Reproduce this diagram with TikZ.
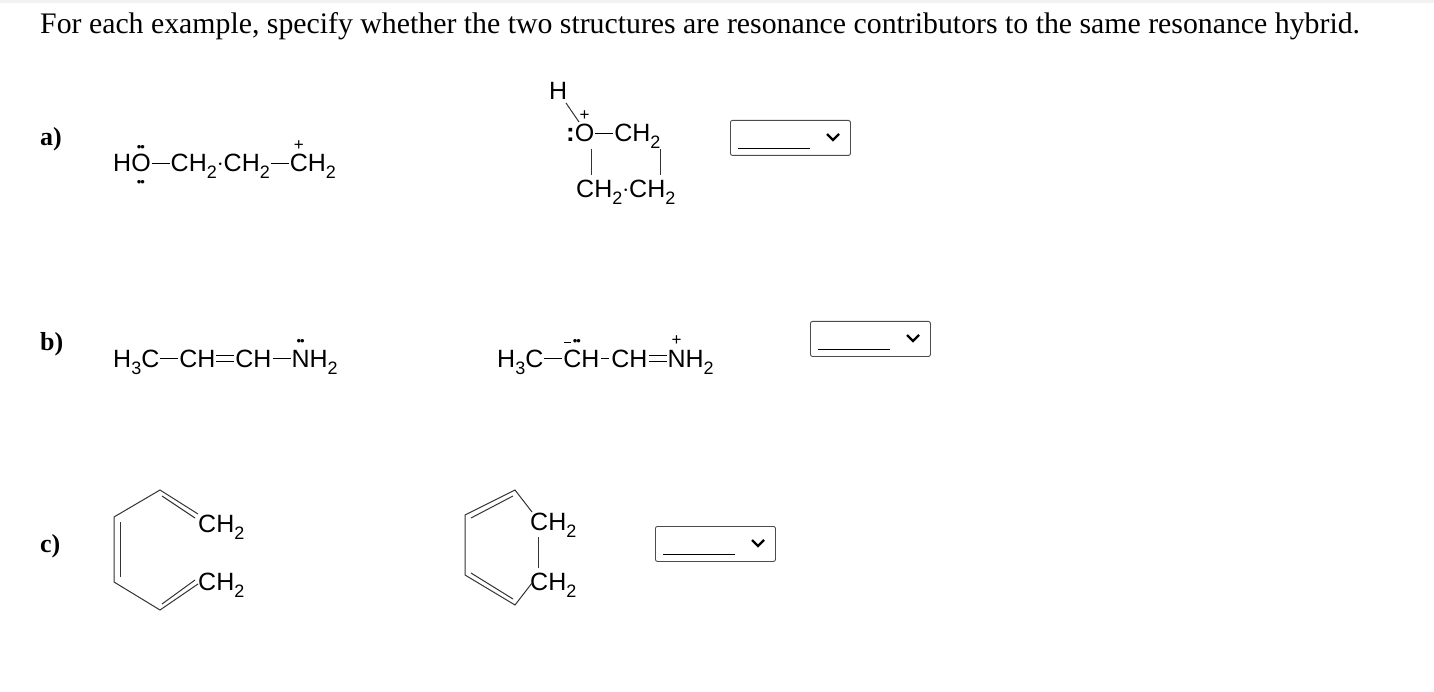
\documentclass[tikz,border=0pt]{standalone}
\usepackage{fontspec}
\setmainfont{Liberation Serif}
\newfontfamily\chem{Liberation Sans}
\newcommand\sub[1]{\raisebox{-0.28em}{\fontsize{18}{18}\selectfont #1}}
\newcommand\dd{{\fontsize{13}{13}\selectfont\textbullet\kern-1pt\textbullet}}
\newcommand\tmk[2]{\ooalign{#2\cr\hidewidth\raisebox{0.85em}{#1}\hidewidth\cr}}
\newcommand\lpO{\ooalign{O\cr\hidewidth\raisebox{0.8em}{\dd}\hidewidth\cr\hidewidth\raisebox{-0.6em}{\dd}\hidewidth\cr}}
\newcommand\pl{{\fontsize{17}{17}\selectfont +}}
\newcommand\sbnd{\kern1pt\rule[0.32em]{18pt}{1pt}\kern1pt}
\newcommand\dbnd{\kern1pt\rule[0.22em]{18pt}{1pt}\kern-18pt\rule[0.45em]{18pt}{1pt}\kern1pt}
\newcommand\cdt{\raisebox{0.05em}{$\cdot$}}
\begin{document}
\begin{tikzpicture}[x=1pt,y=-1pt,
  chemtxt/.style={font=\chem\fontsize{25}{25}\selectfont, inner sep=0pt, anchor=base west},
  lbl/.style={font=\bfseries\fontsize{26}{26}\selectfont, inner sep=0pt, anchor=base west},
  box/.style={draw=black!70, line width=0.9pt, rounded corners=2pt, minimum width=120pt, minimum height=35pt, inner sep=0pt, anchor=north west},
  bond/.style={line width=1pt, black!80}]
\useasboundingbox (0,0) rectangle (1434,692);
\fill[black!5] (0,0) rectangle (1434,3);
\node[anchor=base west, inner sep=0pt, font=\fontsize{29.8}{30}\selectfont] (title) at (40,34) {For each example, specify whether the two structures are resonance contributors to the same resonance hybrid.};
\node[lbl] (la) at (40,146) {a)};
\node[lbl] (lb) at (40,350) {b)};
\node[lbl] (lc) at (40,552) {c)};
% a left
\node[chemtxt] (a1) at (113,172) {H\lpO\sbnd CH\sub{2}\cdt CH\sub{2}\sbnd\tmk{\pl}{C}H\sub{2}};
% a right
\node[chemtxt] (ah) at (549,100) {H};
\node[chemtxt] (ao) at (566,142) {{\fontsize{26}{26}\selectfont\textbf{:}}\tmk{\pl}{O}\sbnd CH\sub{2}};
\node[chemtxt] (ab) at (576,198) {CH\sub{2}\cdt CH\sub{2}};
\draw[bond] (566,103) -- (579,122);
\draw[bond] (591,149) -- (591,175);
\draw[bond] (660,149) -- (660,175);
% b
\node[chemtxt] (b1) at (113,367) {H\sub{3}C\sbnd CH\dbnd CH\sbnd\tmk{\dd}{N}H\sub{2}};
\node[chemtxt] (b2) at (497,367) {H\sub{3}C\sbnd \tmk{\rule[0.1em]{7pt}{1.2pt}\kern2pt\dd}{C}H\kern2pt\rule[0.32em]{8pt}{1pt}\kern2pt CH\dbnd \tmk{\pl}{N}H\sub{2}};
% c left
\node[chemtxt] (c1a) at (198,532) {CH\sub{2}};
\node[chemtxt] (c1b) at (198,590) {CH\sub{2}};
\coordinate (t1) at (160,490);
\coordinate (l1) at (114,517);
\coordinate (m1) at (114,582);
\coordinate (u1) at (160,610);
\draw[bond] (198,514) -- (t1) -- (l1) -- (m1) -- (u1) -- (198,584);
\draw[bond] (162,496) -- (195,518);
\draw[bond] (120,522) -- (120,577);
\draw[bond] (162,604) -- (195,580);
% c right
\node[chemtxt] (c2a) at (530,530) {CH\sub{2}};
\node[chemtxt] (c2b) at (530,590) {CH\sub{2}};
\coordinate (t2) at (515,490);
\coordinate (l2) at (465,515);
\coordinate (m2) at (465,575);
\coordinate (u2) at (515,605);
\draw[bond] (532,512) -- (t2) -- (l2) -- (m2) -- (u2) -- (532,583);
\draw[bond] (513,496) -- (471,518);
\draw[bond] (471,573) -- (513,599);
\draw[bond] (538,537) -- (538,568);
% boxes
\foreach \n/\x/\y in {ba/730/120, bb/810/321, bc/655/526}{
  \node[box] (\n) at (\x,\y) {};
  \draw[line width=0.9pt] (\x+8,\y+28) -- (\x+80,\y+28);
  \draw[line width=2.2pt] (\x+97,\y+14) -- (\x+103,\y+20) -- (\x+109,\y+14);
}
\end{tikzpicture}
\end{document}
